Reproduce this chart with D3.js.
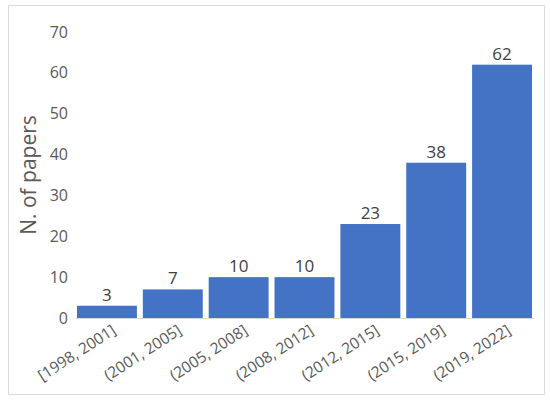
<!DOCTYPE html><html><head><script src="https://cdn.jsdelivr.net/npm/d3@7"></script>
<style>body{margin:0;background:#fff}</style></head><body><svg id="c" width="550" height="405"></svg><script>
const categories=["[1998, 2001]","(2001, 2005]","(2005, 2008]","(2008, 2012]","(2012, 2015]","(2015, 2019]","(2019, 2022]"];
const values=[3,7,10,10,23,38,62];
const yTicks=[0,10,20,30,40,50,60,70];
const svg=d3.select("#c");
svg.append("rect").attr("x",8.5).attr("y",5.5).attr("width",536).attr("height",389).attr("fill","#fff").attr("stroke","#d9d9d9");
const x=d3.scaleBand().domain(categories).range([75,534]).paddingInner(0.09).paddingOuter(0.03);
const y=d3.scaleLinear().domain([0,70]).range([318,32]);
const ya=svg.append("g").attr("transform","translate(70,0)").call(d3.axisLeft(y).tickValues(yTicks).tickSize(0).tickPadding(2));
ya.select(".domain").remove();
ya.selectAll("text").attr("font-family","Open Sans, sans-serif").attr("font-size",16).attr("fill","#595959");
svg.selectAll("rect.b").data(values).join("rect").attr("class","b").attr("x",(d,i)=>x(categories[i])).attr("width",x.bandwidth()).attr("y",d=>y(d)).attr("height",d=>y(0)-y(d)).attr("fill","#4472C4");
svg.selectAll("text.v").data(values).join("text").attr("class","v").attr("x",(d,i)=>x(categories[i])+x.bandwidth()/2).attr("y",d=>y(d)-5).attr("text-anchor","middle").attr("font-family","Open Sans, sans-serif").attr("font-size",17).attr("fill","#404040").text(d=>d);
const xa=svg.append("g").attr("transform","translate(0,318)").call(d3.axisBottom(x).tickSize(0).tickPadding(0));
xa.select(".domain").attr("stroke","#d9d9d9");
xa.selectAll("text").attr("font-family","Open Sans, sans-serif").attr("font-size",15.5).attr("fill","#595959").attr("text-anchor","end").attr("dy",0).attr("transform","translate(10,15) rotate(-33)");
svg.append("text").attr("transform","translate(36,175) rotate(-90)").attr("text-anchor","middle").attr("font-family","Open Sans, sans-serif").attr("font-size",21).attr("fill","#595959").text("N. of papers");
</script></body></html>
